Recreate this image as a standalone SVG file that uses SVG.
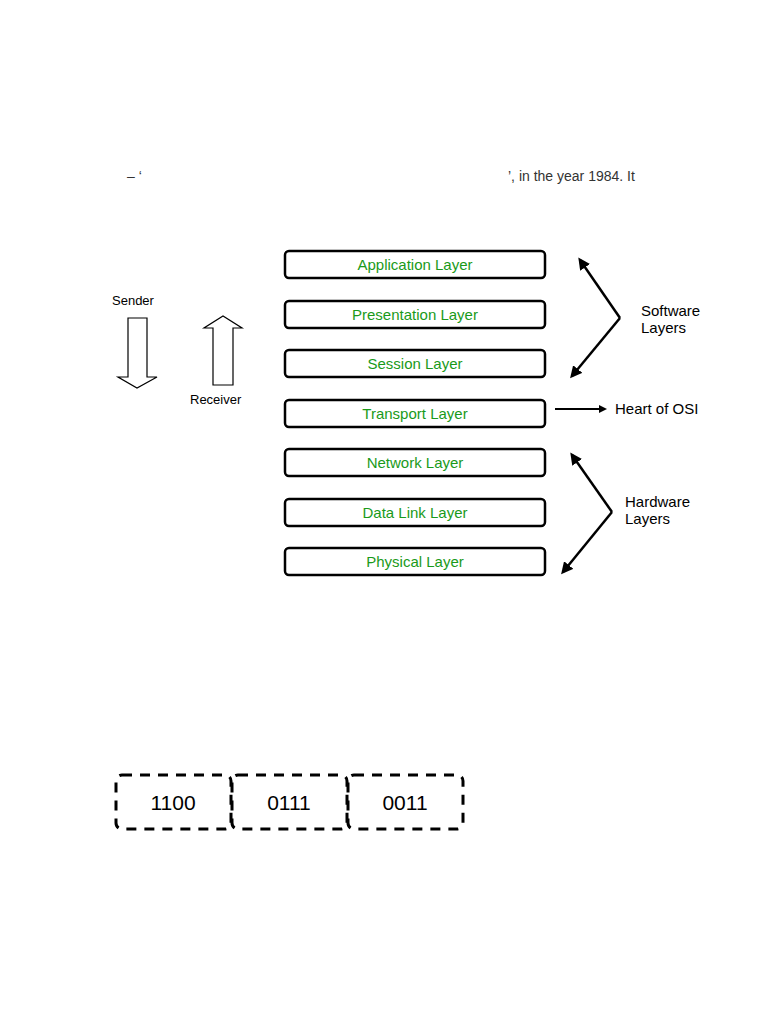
<svg xmlns="http://www.w3.org/2000/svg" width="768" height="1024" viewBox="0 0 768 1024">
<style>
text{font-family:"Liberation Sans",Arial,sans-serif}
.box{fill:#fff;stroke:#000;stroke-width:2.5}
.lbl{fill:#1a9a1a;font-size:15px;text-anchor:middle}
.blk{fill:#000;font-size:14px}
.dash{fill:none;stroke:#000;stroke-width:3;stroke-dasharray:10 8}
.hollow{fill:#fff;stroke:#000;stroke-width:1.2}
.ln{fill:none;stroke:#000;stroke-width:2.5}
</style>
<defs><marker id="ah" markerWidth="8" markerHeight="8" refX="6" refY="4" orient="auto" markerUnits="userSpaceOnUse" viewBox="0 0 8 8"><path d="M0,0 L8,4 L0,8 z" fill="#000"/></marker>
<marker id="ah2" markerWidth="12" markerHeight="12" refX="9" refY="6" orient="auto" markerUnits="userSpaceOnUse" viewBox="0 0 12 12"><path d="M0,0 L12,6 L0,12 z" fill="#000"/></marker></defs>
<text x="127" y="181" style="font-size:14px;fill:#333">– ‘</text>
<text x="508" y="181" style="font-size:14px;fill:#333">’, in the year 1984. It</text>
<g id="application"><rect class="box" x="285" y="251" width="260" height="27" rx="4"/><text class="lbl" x="415" y="270">Application Layer</text></g>
<g id="presentation"><rect class="box" x="285" y="301" width="260" height="27" rx="4"/><text class="lbl" x="415" y="320">Presentation Layer</text></g>
<g id="session"><rect class="box" x="285" y="350" width="260" height="27" rx="4"/><text class="lbl" x="415" y="369">Session Layer</text></g>
<g id="transport"><rect class="box" x="285" y="400" width="260" height="27" rx="4"/><text class="lbl" x="415" y="419">Transport Layer</text></g>
<g id="network"><rect class="box" x="285" y="449" width="260" height="27" rx="4"/><text class="lbl" x="415" y="468">Network Layer</text></g>
<g id="datalink"><rect class="box" x="285" y="499" width="260" height="27" rx="4"/><text class="lbl" x="415" y="518">Data Link Layer</text></g>
<g id="physical"><rect class="box" x="285" y="548" width="260" height="27" rx="4"/><text class="lbl" x="415" y="567">Physical Layer</text></g>
<g id="sender"><text class="blk" x="112" y="305" style="font-size:13px">Sender</text><path class="hollow" d="M128,318 H147 V377 H157 L137,388 L118,377 H128 Z"/></g>
<g id="receiver"><text class="blk" x="190" y="404" style="font-size:13px">Receiver</text><path class="hollow" d="M213,385 V328 H204 L223,316 L242,328 H233 V385 Z"/></g>
<g id="software"><text class="blk" x="641" y="316" style="font-size:15px">Software</text><text class="blk" x="641" y="333" style="font-size:15px">Layers</text></g>
<g id="hardware"><text class="blk" x="625" y="507" style="font-size:15px">Hardware</text><text class="blk" x="625" y="524" style="font-size:15px">Layers</text></g>
<g id="heart"><text class="blk" x="615" y="414" style="font-size:15px">Heart of OSI</text></g>
<g id="connectors">
<path class="ln" d="M620,318 L580,260" marker-end="url(#ah2)"/>
<path class="ln" d="M620,318 L572,376" marker-end="url(#ah2)"/>
<path class="ln" d="M612,512 L572,455" marker-end="url(#ah2)"/>
<path class="ln" d="M612,512 L563,572" marker-end="url(#ah2)"/>
<path d="M555,409 H605" stroke="#000" stroke-width="2" marker-end="url(#ah)"/>
</g>
<g id="bits">
<rect class="dash" x="116" y="775" width="115" height="54" rx="6"/>
<rect class="dash" x="232" y="775" width="115" height="54" rx="6"/>
<rect class="dash" x="348" y="775" width="115" height="54" rx="6"/>
<text x="173" y="810" style="font-size:21px;text-anchor:middle">1100</text>
<text x="289" y="810" style="font-size:21px;text-anchor:middle">0111</text>
<text x="405" y="810" style="font-size:21px;text-anchor:middle">0011</text>
</g>
</svg>
